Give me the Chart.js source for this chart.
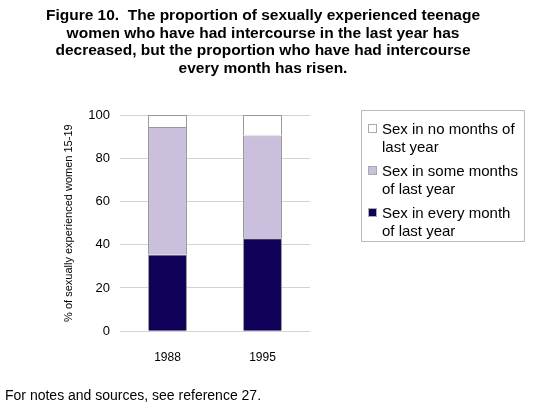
<!DOCTYPE html>
<html>
<head>
  <title>Figure 10</title>
  <script src="https://cdn.jsdelivr.net/npm/chart.js"></script>
  <style>
    body { margin: 0; background: #fff; font-family: "Liberation Sans", Arial, sans-serif; }
    #wrap { position: relative; width: 536px; height: 405px; }
    #legend { position: absolute; left: 361px; top: 110px; width: 162px; height: 130px;
              border: 1px solid #bbb; box-sizing: content-box; }
    #legend ul { list-style: none; margin: 0; padding: 9px 0 0 0; }
    #legend li { position: relative; padding-left: 20px; font-size: 15px; line-height: 18px;
                 margin-bottom: 6px; color: #000; white-space: nowrap; }
    #legend li span { position: absolute; left: 6px; top: 4px; width: 9px; height: 9px;
                      box-sizing: border-box; border: 1px solid #aaa; }
  </style>
</head>
<body>
  <div id="wrap">
    <canvas id="chart"></canvas>
    <div id="legend"></div>
  </div>

  <script>
    // values
    const years = ["1988", "1995"];
    const everyMonth = [35.5, 43];
    const someMonths = [59, 47.5];
    const noMonths = [5.5, 9.5];
    const yTicks = [0, 20, 40, 60, 80, 100];

    const seriesLabels = [
      ["Sex in every month", "of last year"],
      ["Sex in some months", "of last year"],
      ["Sex in no months of", "last year"]
    ];

    Chart.defaults.font.family = '"Liberation Sans", Arial, sans-serif';
    Chart.defaults.color = "#000";

    // legend drawn as html so the labels can wrap on two lines
    const htmlLegend = {
      id: "htmlLegend",
      afterUpdate(chart) {
        const box = document.getElementById("legend");
        const items = chart.options.plugins.legend.labels.generateLabels(chart).slice().reverse();
        let html = "<ul>";
        items.forEach(item => {
          const lines = seriesLabels[item.datasetIndex];
          html += '<li><span style="background:' + item.fillStyle + '"></span>' + lines.join("<br>") + "</li>";
        });
        box.innerHTML = html + "</ul>";
      }
    };

    const ctx = document.getElementById("chart").getContext("2d");
    new Chart(ctx, {
      type: "bar",
      data: {
        labels: years,
        datasets: [
          { label: seriesLabels[0].join(" "), data: everyMonth, backgroundColor: "#110058" },
          { label: seriesLabels[1].join(" "), data: someMonths, backgroundColor: "#cbbfde" },
          { label: seriesLabels[2].join(" "), data: noMonths, backgroundColor: "#ffffff" }
        ]
      },
      options: {
        responsive: true,
        maintainAspectRatio: false,
        animation: false,
        layout: { padding: { left: 5, right: 15, top: 0, bottom: 0 } },
        datasets: {
          bar: {
            borderColor: "#999",
            borderWidth: 1,
            borderSkipped: "bottom",
            barPercentage: 0.41,
            categoryPercentage: 1
          }
        },
        plugins: {
          legend: { display: false },
          tooltip: { enabled: false },
          title: {
            display: true,
            text: [
              "Figure 10.  The proportion of sexually experienced teenage",
              "women who have had intercourse in the last year has",
              "decreased, but the proportion who have had intercourse",
              "every month has risen."
            ],
            font: { size: 15.5, weight: "bold", lineHeight: 1.13 },
            padding: { top: 7, bottom: 38 }
          },
          subtitle: {
            display: true,
            position: "bottom",
            align: "start",
            text: "For notes and sources, see reference 27.",
            font: { size: 14 },
            padding: { top: 27, bottom: 0 }
          }
        },
        scales: {
          x: {
            stacked: true,
            grid: { display: false },
            border: { display: false },
            ticks: { font: { size: 12 }, padding: 11 },
            afterFit(s) { s.height = 30; }
          },
          y: {
            stacked: true,
            min: 0,
            max: 100,
            afterBuildTicks(s) { s.ticks = yTicks.map(v => ({ value: v })); },
            grid: { color: "#d3d3d3", drawTicks: false },
            border: { display: false },
            ticks: { font: { size: 13 }, padding: 10 },
            title: {
              display: true,
              text: "% of sexually experienced women 15-19",
              font: { size: 11 },
              padding: { top: 57 }
            },
            afterFit(s) { s.width = 115; }
          },
          yPad: {
            type: "linear",
            position: "right",
            ticks: { display: false },
            grid: { display: false },
            border: { display: false },
            afterFit(s) { s.width = 211; }
          }
        }
      },
      plugins: [htmlLegend]
    });
  </script>
</body>
</html>
